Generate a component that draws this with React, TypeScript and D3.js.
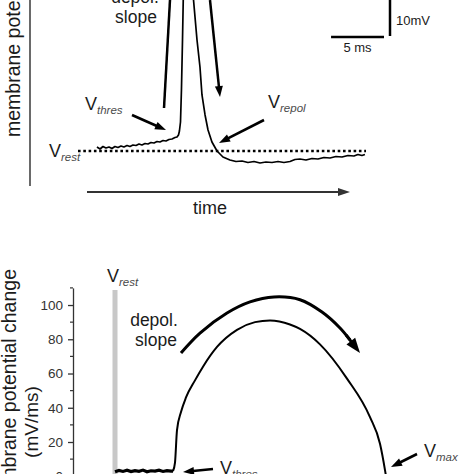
import React, { useEffect, useRef } from "react";
import * as d3 from "d3";

const W = 474;
const H = 474;
const FONT = '"Liberation Sans", Arial, sans-serif';
const INK = "#1b1b1b";
const SUB = "#4a4a4a";

// top panel: recorded spike, time (ms) vs membrane potential (mV)
const TRACE_T = [
  1.79, 2.08, 2.36, 2.64, 2.93, 3.21, 3.49, 3.78, 4.06, 4.34, 4.63, 4.91, 5.19, 5.48, 5.76, 6.04,
  6.33, 6.61, 6.89, 7.18, 7.46, 7.74, 8.03, 8.31, 8.59, 8.88, 9.16, 9.35, 9.49, 9.58, 9.68, 9.77,
  9.87, 9.94, 10.1, 10.29, 10.48, 10.67, 10.79, 10.91, 11.24, 11.52, 11.71, 12.0, 12.28, 12.65,
  13.13, 13.69, 14.35, 14.92, 15.49, 16.05, 16.62, 17.19, 17.75, 18.32, 18.89, 19.45, 20.02,
  20.49, 20.96, 21.53, 22.1, 22.66, 23.23, 23.8, 24.36, 24.93, 25.5, 26.06, 26.44, 26.82, 27.1,
];
const TRACE_V = [
  -68.89, -69.44, -68.75, -69.17, -68.89, -69.31, -68.75, -69.03, -68.61, -68.89, -68.47, -68.75,
  -68.33, -68.47, -68.06, -68.33, -67.92, -68.06, -67.64, -67.78, -67.36, -67.5, -67.08, -67.22,
  -66.81, -66.67, -66.25, -66.11, -65.56, -64.44, -61.94, -53.06, -39.17, -28.06, -11.4, -0.28,
  3.06, -3.06, -16.94, -28.06, -39.17, -46.67, -54.44, -60.0, -64.17, -67.5, -70.0, -71.67, -72.5,
  -72.92, -72.78, -73.19, -72.92, -73.33, -73.06, -73.19, -72.92, -73.19, -72.92, -72.36, -72.22,
  -72.5, -72.08, -72.22, -71.81, -71.94, -71.53, -71.67, -71.25, -71.39, -70.97, -71.25, -70.97,
];
const V_REST = -70;
const T_RANGE = [0, 27.2];

// bottom panel: phase plot, membrane potential (mV) vs dV/dt (mV/ms)
const BASE_V = [-70, -69, -68, -67, -66, -65, -64, -63, -62, -61, -60, -59, -58, -57, -56, -55.5];
const BASE_DVDT = [2.6, 3.4, 2.8, 3.5, 2.7, 3.3, 2.9, 3.6, 2.6, 3.2, 3.0, 3.5, 2.8, 3.3, 3.0, 3.0];
const PHASE_V = [
  -55.5, -55, -54.5, -53.5, -52.25, -50, -48, -44.5, -39.5, -35, -31.25, -26.25, -23.75, -18.75,
  -12, -6.25, -3.75, -2.5, -2.25,
];
const PHASE_DVDT = [3, 8, 27, 37.5, 46, 56, 64, 75.5, 85.5, 90, 91, 88.6, 86, 77, 57, 34.5, 19, 3.6, 0];
const SLOPE_ARROW_V = [-53.5, -48.75, -42, -36.25, -30.25, -23.75, -18.25, -13.75, -11.25];
const SLOPE_ARROW_DVDT = [72, 83.6, 95.3, 101.8, 104.7, 103.1, 95.9, 86.6, 79.6];
const Y_TICKS = [0, 20, 40, 60, 80, 100];
const Y_MINOR = [10, 30, 50, 70, 90, 110];

function Arrow({ x1, y1, x2, y2, w = 2.5, head = 11, hw = 8, color = "#000" }: any) {
  const a = Math.atan2(y2 - y1, x2 - x1);
  const bx = x2 - head * Math.cos(a);
  const by = y2 - head * Math.sin(a);
  const px = (-Math.sin(a) * hw) / 2;
  const py = (Math.cos(a) * hw) / 2;
  return (
    <g>
      <line x1={x1} y1={y1} x2={bx + Math.cos(a)} y2={by + Math.sin(a)} stroke={color} strokeWidth={w} />
      <polygon points={`${x2},${y2} ${bx + px},${by + py} ${bx - px},${by - py}`} fill={color} />
    </g>
  );
}

function VLabel({ x, y, sub, size = 18 }: any) {
  return (
    <text x={x} y={y} fontFamily={FONT} fontSize={size} fill={INK}>
      V
      <tspan dy={4} fontSize={11.5} fontStyle="italic" fill={SUB}>
        {sub}
      </tspan>
    </text>
  );
}

export default function App() {
  const axisRef = useRef<SVGGElement>(null);

  // top scales
  const xT = d3.scaleLinear().domain(T_RANGE).range([78, 366]);
  const yT = d3.scaleLinear().domain([V_REST, -28.06]).range([151, 0]);
  // bottom scales
  const xB = d3.scaleLinear().domain([-70, 0]).range([115, 395]);
  const yB = d3.scaleLinear().domain([0, 110]).range([476.25, 287.9]);

  const trace = d3
    .line<number>()
    .x((_, i) => xT(TRACE_T[i]))
    .y((v) => yT(v))(TRACE_V);

  const basePath = d3
    .line<number>()
    .x((v) => xB(v))
    .y((_, i) => yB(BASE_DVDT[i]))(BASE_V);

  const phasePath = d3
    .line<number>()
    .x((v) => xB(v))
    .y((_, i) => yB(PHASE_DVDT[i]))
    .curve(d3.curveMonotoneX)(PHASE_V);

  const slopePath = d3
    .line<number>()
    .x((v) => xB(v))
    .y((_, i) => yB(SLOPE_ARROW_DVDT[i]))
    .curve(d3.curveCatmullRom)(SLOPE_ARROW_V);

  const n = SLOPE_ARROW_V.length;
  const sx = xB(SLOPE_ARROW_V[n - 1]);
  const sy = yB(SLOPE_ARROW_DVDT[n - 1]);

  useEffect(() => {
    const g = d3.select(axisRef.current);
    g.selectAll("*").remove();
    const major = d3.axisLeft(yB).tickValues(Y_TICKS).tickSize(5).tickPadding(5).tickSizeOuter(0);
    g.call(major as any);
    g.select(".domain").attr("stroke", "#333").attr("stroke-width", 1.3);
    g.selectAll(".tick line").attr("stroke", "#333").attr("stroke-width", 1.3);
    g.selectAll(".tick text")
      .attr("font-family", FONT)
      .attr("font-size", 13.5)
      .attr("fill", "#333");
    g.selectAll(".minor")
      .data(Y_MINOR)
      .enter()
      .append("line")
      .attr("class", "minor")
      .attr("x1", -3)
      .attr("x2", 0)
      .attr("y1", (d) => yB(d))
      .attr("y2", (d) => yB(d))
      .attr("stroke", "#333")
      .attr("stroke-width", 1.2);
  }, []);

  return (
    <svg width={W} height={H} style={{ position: "absolute", left: 0, top: 0, background: "#fff" }}>
      {/* ---------- top panel ---------- */}
      <line x1={30} y1={0} x2={30} y2={186} stroke="#444" strokeWidth={1.6} />
      <text
        transform="translate(20,137) rotate(-90)"
        fontFamily={FONT}
        fontSize={19.5}
        fill={INK}
      >
        membrane potential
      </text>

      <line
        x1={xT(T_RANGE[0])}
        x2={xT(T_RANGE[1])}
        y1={yT(V_REST)}
        y2={yT(V_REST)}
        stroke="#000"
        strokeWidth={2.6}
        strokeDasharray="2.6 2.7"
      />
      <path d={trace || ""} fill="none" stroke="#000" strokeWidth={1.7} strokeLinejoin="round" />

      {/* depol. slope annotation */}
      <text x={135} y={3} textAnchor="middle" fontFamily={FONT} fontSize={17.5} fill={INK}>
        depol.
      </text>
      <text x={136} y={23} textAnchor="middle" fontFamily={FONT} fontSize={17.5} fill={INK}>
        slope
      </text>
      <line x1={170} y1={0} x2={164} y2={108} stroke="#000" strokeWidth={2.5} />
      <Arrow x1={210} y1={0} x2={220} y2={97} w={2.5} head={11} hw={8} />

      <VLabel x={85} y={110} sub="thres" />
      <Arrow x1={132} y1={115} x2={166} y2={130} w={2.6} head={11} hw={8} />
      <VLabel x={49} y={157} sub="rest" />
      <VLabel x={268} y={108} sub="repol" />
      <Arrow x1={264} y1={120} x2={219} y2={143} w={2.6} head={11} hw={8} />

      {/* scale bars */}
      <line x1={390} x2={390} y1={0} y2={yT(V_REST) - yT(V_REST + 10)} stroke="#000" strokeWidth={2.5} />
      <line x1={xT(23.9)} x2={xT(28.9)} y1={37} y2={37} stroke="#000" strokeWidth={2.5} />
      <text x={396} y={25} fontFamily={FONT} fontSize={13} fill={INK}>
        10mV
      </text>
      <text x={xT(26.4)} y={52} textAnchor="middle" fontFamily={FONT} fontSize={13} fill={INK}>
        5 ms
      </text>

      <Arrow x1={87} y1={192} x2={350} y2={192} w={2} head={12} hw={8} color="#333" />
      <text x={210} y={214} textAnchor="middle" fontFamily={FONT} fontSize={18} fill={INK}>
        time
      </text>

      {/* ---------- bottom panel ---------- */}
      <text
        transform="translate(15.5,269) rotate(-90)"
        textAnchor="end"
        fontFamily={FONT}
        fontSize={19.5}
        fill={INK}
      >
        membrane potential change
      </text>
      <text
        transform="translate(38,422) rotate(-90)"
        textAnchor="middle"
        fontFamily={FONT}
        fontSize={19}
        fill={INK}
      >
        (mV/ms)
      </text>
      <g ref={axisRef} transform="translate(73,0)" />

      <rect x={xB(V_REST) - 2.5} y={290} width={5} height={H - 290} fill="#c8c8c8" />
      <VLabel x={107} y={282} sub="rest" />

      <path d={basePath || ""} fill="none" stroke="#000" strokeWidth={3.2} />
      <path d={phasePath || ""} fill="none" stroke="#000" strokeWidth={2} />

      <text x={154} y={326} textAnchor="middle" fontFamily={FONT} fontSize={17.5} fill={INK}>
        depol.
      </text>
      <text x={156} y={346} textAnchor="middle" fontFamily={FONT} fontSize={17.5} fill={INK}>
        slope
      </text>
      <path d={slopePath || ""} fill="none" stroke="#000" strokeWidth={3} />
      <Arrow x1={sx - 4} y1={sy - 5} x2={360} y2={353} w={3} head={15} hw={11} />

      <Arrow x1={213} y1={469} x2={183} y2={472} w={2.6} head={11} hw={8} />
      <VLabel x={220} y={474} sub="thres" />
      <Arrow x1={417} y1={454} x2={391} y2={467} w={2.6} head={11} hw={8} />
      <VLabel x={424} y={457} sub="max" />
    </svg>
  );
}
